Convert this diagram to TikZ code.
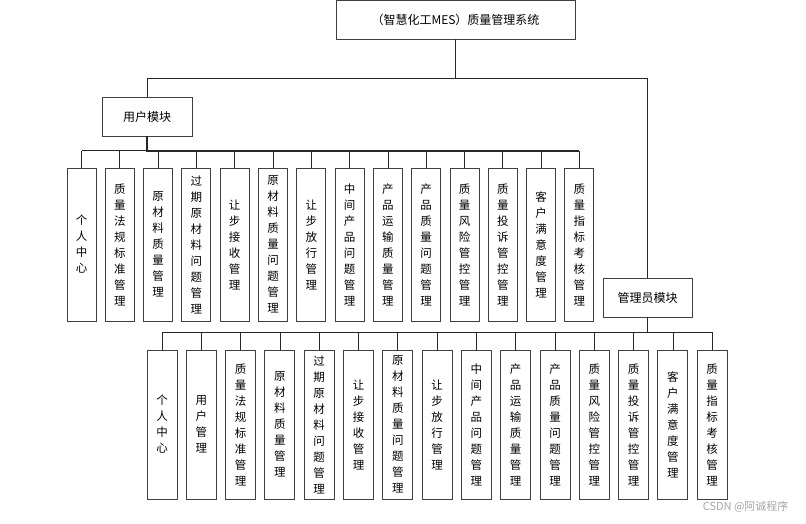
\documentclass[tikz,border=0pt]{standalone}
\usepackage{fontspec}
\setmainfont{Noto Sans CJK SC}
\def\vstack#1{\vfirst#1\relax}
\def\vfirst#1{#1\vrest}
\def\vrest#1{\ifx#1\relax\else\\#1\expandafter\vrest\fi}
\def\xvstack#1{\expandafter\vstack\expandafter{#1}}
\begin{document}
\begin{tikzpicture}[x=1pt,y=-1pt,
  box/.style={draw=black!75,line width=0.9pt,fill=white,inner sep=0pt,font=\fontsize{12}{15}\selectfont},
  leaf/.style={box,minimum width=29pt,minimum height=153pt,align=center,font=\fontsize{11.5}{16}\selectfont},
  aleaf/.style={leaf,minimum width=30pt,minimum height=149pt},
  wire/.style={draw=black!85,line width=0.8pt}]
\useasboundingbox (0,0) rectangle (806,524);
\node[box,minimum width=239pt,minimum height=39pt] (root) at (455.5,19.5) {（智慧化工MES）质量管理系统};
\node[box,minimum width=90pt,minimum height=39pt] (user) at (147,116.5) {用户模块};
\node[box,minimum width=89pt,minimum height=39pt] (admin) at (647.5,297.5) {管理员模块};
\coordinate (j) at (455.5,78);
\draw[wire] (root.south) -- (j) (147,78) -- (647.5,78);
\draw[wire] (147,78) -- (user.north);
\draw[wire] (647.5,78) -- (admin.north);
\foreach [count=\i] \t in {个人中心,质量法规标准管理,原材料质量管理,过期原材料问题管理,让步接收管理,原材料质量问题管理,让步放行管理,中间产品问题管理,产品运输质量管理,产品质量问题管理,质量风险管控管理,质量投诉管控管理,客户满意度管理,质量指标考核管理}{
  \node[leaf] (u\i) at ({81.5+(\i-1)*38.3},244.5) {\xvstack{\t}};
  \draw[wire] (u\i.north) -- ++(0,-17);
}
\draw[wire] (u1.north) ++(0,-17) -- ([yshift=17pt]u14.north);
\draw[wire,line width=1.6pt] (user.south) -- (147,151) -- (u14.north |- 0,151);
\foreach [count=\i] \t in {个人中心,用户管理,质量法规标准管理,原材料质量管理,过期原材料问题管理,让步接收管理,原材料质量问题管理,让步放行管理,中间产品问题管理,产品运输质量管理,产品质量问题管理,质量风险管控管理,质量投诉管控管理,客户满意度管理,质量指标考核管理}{
  \node[aleaf] (a\i) at ({162+(\i-1)*39.3},424.5) {\xvstack{\t}};
  \draw[wire] (a\i.north) -- ++(0,-18);
}
\draw[wire] (a1.north |- 0,332) -- (a15.north |- 0,332);
\draw[wire] (admin.south) -- (admin.south |- 0,332);
\node[text=black!35,font=\fontsize{11}{13}\selectfont,anchor=east] (wm) at (792,507) {CSDN @阿诚程序};
\end{tikzpicture}
\end{document}
